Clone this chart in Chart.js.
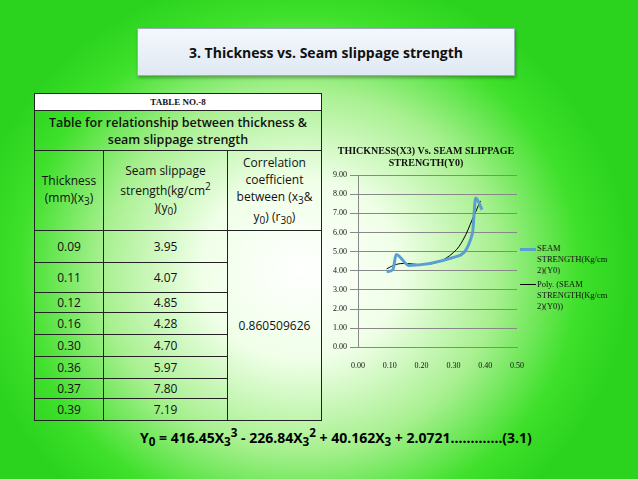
<!DOCTYPE html>
<html><head><meta charset="utf-8">
<script src="https://cdn.jsdelivr.net/npm/chart.js@4"></script>
<style>
body{margin:0;width:638px;height:479px;overflow:hidden;position:relative;font-family:"Open Sans","Noto Sans",sans-serif;
background:radial-gradient(ellipse 330px 300px at 300px 270px,#ffffff 0%,#f0ffe8 30%,#a8f090 60%,#3ee02a 85%,#2bd31f 100%);}
#tb{position:absolute;left:137px;top:28px;width:376px;height:46px;background:linear-gradient(#f4f8fc,#dfe8f3);border:1px solid #9ab;box-shadow:1px 2px 3px rgba(0,0,0,.3);display:flex;align-items:center;justify-content:center;font-weight:bold;font-size:14px;color:#111}
table{position:absolute;left:34px;top:93px;border-collapse:collapse;font-size:12px;color:#111}
td{border:1px solid #222;text-align:center;padding:0}
#eq{position:absolute;left:140px;top:425px;font-weight:bold;font-size:14px;color:#000}
#c{position:absolute;left:330px;top:145px}
.lg{position:absolute;font-family:"Liberation Serif",serif;font-size:8.5px;line-height:11px;color:#111}
</style></head><body>
<div id="tb">3. Thickness vs. Seam slippage strength</div>
<table>
<tr style="height:17px;background:#fff"><td colspan="3" style="font-family:'Liberation Serif';font-weight:bold;font-size:9px">TABLE NO.-8</td></tr>
<tr style="height:40px"><td colspan="3" style="font-weight:600;font-size:12.5px">Table for relationship between thickness &amp;<br>seam slippage strength</td></tr>
<tr style="height:80px"><td style="width:68px">Thickness<br>(mm)(x<sub>3</sub>)</td><td style="width:123px">Seam slippage<br>strength(kg/cm<sup>2</sup><br>)(y<sub>0</sub>)</td><td style="width:93px">Correlation<br>coefficient<br>between (x<sub>3</sub>&amp;<br>y<sub>0</sub>) (r<sub>30</sub>)</td></tr>
<tr style="height:32px"><td>0.09</td><td>3.95</td><td rowspan="8">0.860509626</td></tr>
<tr style="height:30px"><td>0.11</td><td>4.07</td></tr>
<tr style="height:20px"><td>0.12</td><td>4.85</td></tr>
<tr style="height:22px"><td>0.16</td><td>4.28</td></tr>
<tr style="height:22px"><td>0.30</td><td>4.70</td></tr>
<tr style="height:22px"><td>0.36</td><td>5.97</td></tr>
<tr style="height:20px"><td>0.37</td><td>7.80</td></tr>
<tr style="height:22px"><td>0.39</td><td>7.19</td></tr>
</table>
<div id="eq">Y<sub>0</sub> = 416.45X<sub>3</sub><sup>3</sup> - 226.84X<sub>3</sub><sup>2</sup> + 40.162X<sub>3</sub> + 2.0721………….(3.1)</div>
<canvas id="c" width="200" height="244"></canvas>
<div class="lg" style="left:537px;top:243px">SEAM<br>STRENGTH(Kg/cm<br>2)(Y0)</div>
<div class="lg" style="left:537px;top:279px">Poly. (SEAM<br>STRENGTH(Kg/cm<br>2)(Y0))</div>
<div style="position:absolute;left:520px;top:248px;width:16px;height:3px;background:#5a9fcf"></div>
<div style="position:absolute;left:520px;top:284px;width:16px;height:1px;background:#000"></div>
<script>
const thickness=[0.09,0.11,0.12,0.16,0.30,0.36,0.37,0.39];
const strength=[3.95,4.07,4.85,4.28,4.70,5.97,7.80,7.19];
const trendX=[0.09,0.12,0.15,0.20,0.25,0.30,0.33,0.36,0.385];
const trendY=[4.1,4.33,4.38,4.33,4.45,4.95,5.6,6.7,7.65];
new Chart(document.getElementById('c'),{type:'scatter',
data:{datasets:[
{data:thickness.map((x,i)=>({x,y:strength[i]})),showLine:true,borderColor:'#5a9fcf',borderWidth:3,pointRadius:0,tension:0.4,cubicInterpolationMode:'monotone'},
{data:trendX.map((x,i)=>({x,y:trendY[i]})),showLine:true,borderColor:'#000',borderWidth:1,pointRadius:0,tension:0.4}
]},
options:{responsive:false,animation:false,layout:{padding:{right:8,left:0,bottom:12}},
plugins:{legend:{display:false},tooltip:{enabled:false},
title:{display:true,text:['THICKNESS(X3) Vs. SEAM SLIPPAGE','STRENGTH(Y0)'],font:{family:'Liberation Serif',size:10,weight:'bold'},color:'#111',padding:{top:0,bottom:6}}},
scales:{x:{min:0,max:0.5,ticks:{stepSize:0.1,padding:6,callback:v=>v.toFixed(2),font:{family:'Liberation Serif',size:8},color:'#111'},grid:{display:false},border:{color:'#888'}},
y:{min:0,max:9,ticks:{stepSize:1,callback:v=>v.toFixed(2),font:{family:'Liberation Serif',size:8},color:'#111'},grid:{color:'#888'},border:{color:'#888'}}}}});
</script></body></html>
